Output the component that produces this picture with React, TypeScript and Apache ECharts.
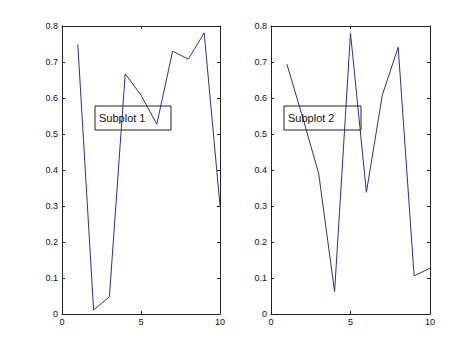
import React, { useEffect, useRef } from "react";
import * as echarts from "echarts";

const xValues = [1, 2, 3, 4, 5, 6, 7, 8, 9, 10];
const series1 = [0.749, 0.011, 0.048, 0.667, 0.608, 0.527, 0.73, 0.708, 0.781, 0.30];
const series2 = [0.694, 0.545, 0.39, 0.062, 0.78, 0.338, 0.608, 0.741, 0.106, 0.127];
const labels = ["Subplot 1", "Subplot 2"];

const LINE = "#2f2f95";
const AXIS = "#222";
const FONT = "Liberation Sans, Arial, sans-serif";

export default function App() {
  const ref = useRef<HTMLDivElement>(null);
  useEffect(() => {
    if (!ref.current) return;
    const chart = echarts.init(ref.current, undefined, { renderer: "svg" });
    const grids = [
      { left: 62, top: 26, width: 158, height: 288 },
      { left: 271, top: 26, width: 159, height: 288 },
    ];
    const xAxes: any[] = [];
    const yAxes: any[] = [];
    grids.forEach((_, i) => {
      const common = {
        gridIndex: i,
        min: 0,
        axisLine: { show: true, onZero: false, lineStyle: { color: AXIS, width: 1 } },
        axisTick: { show: true, inside: true, length: 3, lineStyle: { color: AXIS } },
        splitLine: { show: false },
      };
      xAxes.push({
        ...common,
        type: "value",
        position: "bottom",
        max: 10,
        interval: 5,
        axisLabel: { color: "#111", fontSize: 9, fontFamily: FONT, margin: 3 },
      });
      xAxes.push({
        ...common,
        type: "value",
        position: "top",
        max: 10,
        interval: 5,
        axisLabel: { show: false },
      });
      yAxes.push({
        ...common,
        type: "value",
        position: "left",
        max: 0.8,
        interval: 0.1,
        axisLabel: {
          color: "#111",
          fontSize: 9,
          fontFamily: FONT,
          margin: 4,
          formatter: (v: number) => (v === 0 ? "0" : String(Math.round(v * 10) / 10)),
        },
      });
      yAxes.push({
        ...common,
        type: "value",
        position: "right",
        max: 0.8,
        interval: 0.1,
        axisLabel: { show: false },
      });
    });
    const mk = (data: number[], i: number) => ({
      type: "line",
      xAxisIndex: i * 2,
      yAxisIndex: i * 2,
      data: xValues.map((x, k) => [x, data[k]]),
      symbol: "none",
      lineStyle: { color: LINE, width: 1 },
      itemStyle: { color: LINE },
    });
    const boxes = [
      { x: 95, y: 106, w: 76, h: 24 },
      { x: 284, y: 106, w: 77, h: 24 },
    ];
    const graphic: any[] = [];
    boxes.forEach((b, i) => {
      graphic.push({
        type: "rect",
        shape: { x: b.x, y: b.y, width: b.w, height: b.h },
        style: { fill: "none", stroke: "#222", lineWidth: 1 },
        z: 10,
      });
      graphic.push({
        type: "text",
        x: b.x + 4,
        y: b.y + b.h / 2,
        style: {
          text: labels[i],
          fill: "#111",
          font: `11px ${FONT}`,
          verticalAlign: "middle",
          align: "left",
        },
        z: 11,
      });
    });
    chart.setOption({
      animation: false,
      backgroundColor: "#fff",
      grid: grids,
      xAxis: xAxes,
      yAxis: yAxes,
      series: [mk(series1, 0), mk(series2, 1)],
      graphic,
    });
    return () => chart.dispose();
  }, []);
  return (
    <div
      ref={ref}
      style={{ position: "fixed", left: 0, top: 0, width: 474, height: 353, background: "#fff" }}
    />
  );
}
